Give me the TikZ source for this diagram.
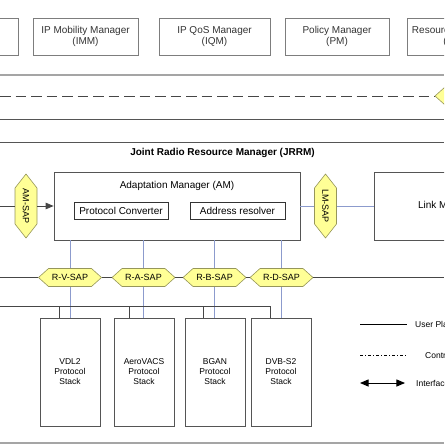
\documentclass[tikz,border=0pt]{standalone}
\usepackage{fontspec}
\setmainfont{Liberation Sans}
\usepackage{xcolor}
\usepackage{graphicx}
\usepackage{tikz}
\usetikzlibrary{arrows}

\definecolor{boxline}{RGB}{85,85,85}
\definecolor{topline}{RGB}{125,125,125}
\definecolor{ctrlblue}{RGB}{140,155,205}
\definecolor{userline}{RGB}{70,70,70}
\definecolor{sapfill}{RGB}{255,255,150}
\definecolor{sapline}{RGB}{150,150,90}
\definecolor{rulegray}{RGB}{165,165,165}

\newcommand{\hsaphex}[4]{%
  \path[sapshape] (#2,#3) ++(-31.5,0) -- ++(10,-9) -- ++(43,0) -- ++(10,9)
     -- ++(-10,9) -- ++(-43,0) -- cycle;
  \node[sap, minimum width=63, minimum height=18] (#1) at (#2,#3) {#4};}
\newcommand{\vsaphex}[4]{%
  \path[sapshape] (#2,#3) ++(0,-32) -- ++(11,14) -- ++(0,36) -- ++(-11,14)
     -- ++(-11,-14) -- ++(0,-36) -- cycle;
  \node[sap, minimum width=22, minimum height=64] (#1) at (#2,#3) {\rotatebox{-90}{#4}};}

\begin{document}
\begin{tikzpicture}[x=1pt,y=-1pt,>=triangle 45,
    topbox/.style={draw=topline, line width=0.8pt, minimum height=37, align=center,
      font=\fontsize{10}{11}\selectfont, text=black!80},
    mgrbox/.style={draw=boxline, line width=0.8pt, font=\fontsize{10}{11}\selectfont},
    subbox/.style={draw=black!80, line width=0.6pt, minimum height=17, inner sep=0,
      font=\fontsize{10}{11}\selectfont},
    stackbox/.style={draw=boxline, line width=0.8pt, minimum width=60, minimum height=108,
      align=center, font=\fontsize{8.5}{10}\selectfont},
    sap/.style={inner sep=0, font=\fontsize{9}{10}\selectfont},
    sapshape/.style={fill=sapfill, draw=sapline, line width=0.6pt},
    user/.style={draw=userline, line width=0.8pt},
    ctrl/.style={draw=ctrlblue, line width=0.8pt},
    grayrule/.style={draw=rulegray, line width=2pt},
    legendtext/.style={anchor=west, inner sep=0, font=\fontsize{8.5}{10}\selectfont}]

    \useasboundingbox (0,0) rectangle (444,444);
    \clip (0,0) rectangle (444,444);

    \node[topbox, minimum width=98] (sec) at (-31,36.5) {};
    \node[topbox, minimum width=105] (imm) at (85.5,36.5) {IP Mobility Manager\\(IMM)};
    \node[topbox, minimum width=111] (iqm) at (214.5,36.5) {IP QoS Manager\\(IQM)};
    \node[topbox, minimum width=104] (pm) at (337,36.5) {Policy Manager\\(PM)};
    \node[topbox, minimum width=95] (rm) at (454.5,36.5) {Resource Manager\\(RM)};
    \draw[grayrule] (0,75) -- (444,75);

    \hsaphex{esap}{466.5}{96}{}
    \coordinate (dl) at (0,96);
    \draw[userline, line width=1pt, dash pattern=on 10.5pt off 5pt] (dl) -- (esap.west);

    \draw[boxline] (0,119) -- (444,119);
    \draw[boxline] (0,142) -- (444,142);
    \node[font=\bfseries\fontsize{10}{11}\selectfont] (jrrm) at (222.5,153)
      {Joint Radio Resource Manager (JRRM)};

    \node[mgrbox, minimum width=246, minimum height=68] (am) at (177,206) {};
    \node[font=\fontsize{10}{11}\selectfont] (amtitle) at (177,186) {Adaptation Manager (AM)};
    \node[subbox, minimum width=94] (pconv) at (121,210.5) {Protocol Converter};
    \node[subbox, minimum width=95] (ares) at (237.5,210.5) {Address resolver};

    \vsaphex{amsap}{26}{206}{AM-SAP}
    \vsaphex{lmsap}{325.5}{206}{LM-SAP}
    \node[mgrbox, minimum width=172, minimum height=68] (lm) at (460,206) {Link Manager (LM)};

    \coordinate (jin) at (0,206);
    \draw[user] (jin) -- (amsap.west);
    \draw[user,->] (amsap.east) -- (am.west);
    \draw[ctrl] (am.east) -- (lmsap.west);
    \draw[ctrl] (lmsap.east) -- (lm.west);

    \hsaphex{rvsap}{70}{277.5}{R-V-SAP}
    \hsaphex{rasap}{143.5}{277.5}{R-A-SAP}
    \hsaphex{rbsap}{214.5}{277.5}{R-B-SAP}
    \hsaphex{rdsap}{281.5}{277.5}{R-D-SAP}

    \coordinate (uin) at (0,277.5);
    \coordinate (uout) at (444,277.5);
    \draw[user] (uin) -- (rvsap.west);
    \draw[user] (rvsap.east) -- (rasap.west);
    \draw[user] (rasap.east) -- (rbsap.west);
    \draw[user] (rbsap.east) -- (rdsap.west);
    \draw[user] (rdsap.east) -- (uout);

    \node[stackbox] (vdl) at (70,372) {VDL2\\Protocol\\Stack};
    \node[stackbox] (aero) at (144,372) {AeroVACS\\Protocol\\Stack};
    \node[stackbox] (bgan) at (215,372) {BGAN\\Protocol\\Stack};
    \node[stackbox] (dvb) at (281,372) {DVB-S2\\Protocol\\Stack};

    \foreach \s/\b in {rvsap/vdl,rasap/aero,rbsap/bgan,rdsap/dvb} {
      \draw[ctrl] (am.south -| \s) -- (\s.north);
      \draw[ctrl] (\s.south) -- (\s |- \b.north);
    }

    \coordinate (ubus) at (0,306);
    \draw[user] (ubus) -| ([xshift=-11]dvb.north);
    \foreach \b/\d in {vdl/-11,aero/-15,bgan/-12}
      \draw[user] ([xshift=\d]\b.north) -- ([xshift=\d]\b.north |- ubus);

    \coordinate (lu) at (360,324);
    \node[legendtext] (lgu) at (415,324) {User Plane};
    \draw[black, line width=0.8pt] (lu) -- ([xshift=-8]lgu.west);
    \coordinate (lc) at (360,355);
    \node[legendtext] (lgc) at (425,355) {Control Plane};
    \draw[black, line width=0.6pt, dash pattern=on 3pt off 2pt on 1pt off 2pt] (lc) -- ([xshift=-18]lgc.west);
    \coordinate (li) at (360,383);
    \node[legendtext] (lgi) at (416,383) {Interface};
    \draw[black, line width=1pt, <->] (li) -- ([xshift=-11]lgi.west);

    \draw[grayrule] (0,443) -- (444,443);
\end{tikzpicture}
\end{document}
